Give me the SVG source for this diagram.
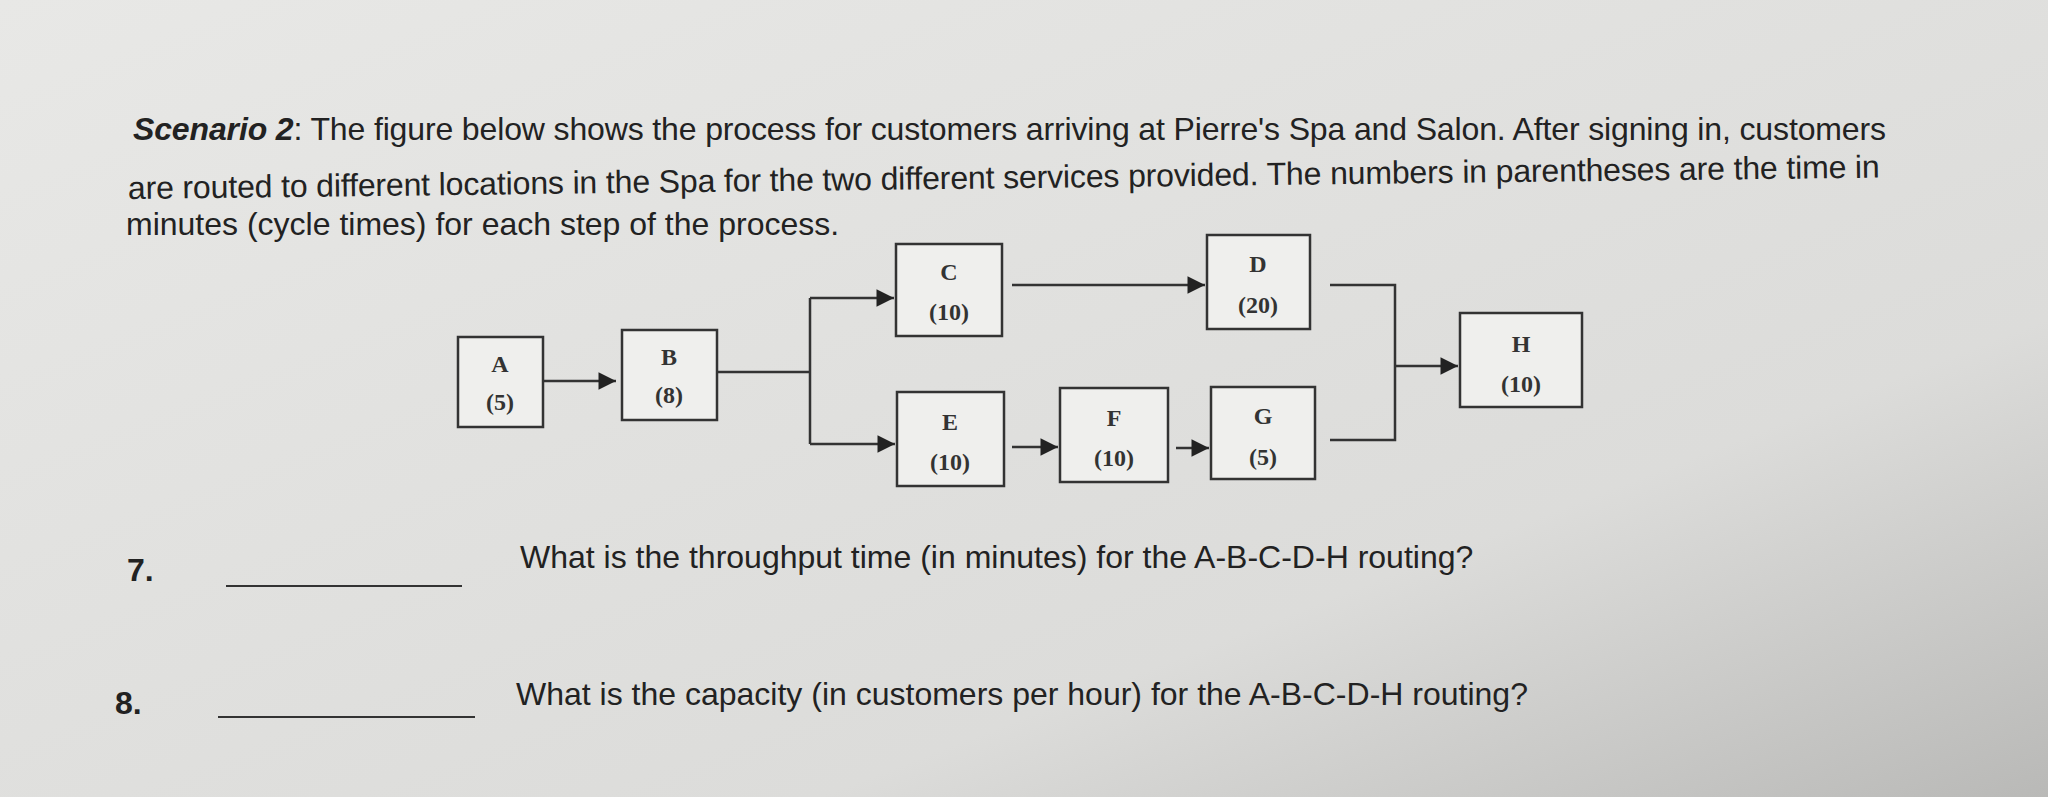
<svg xmlns="http://www.w3.org/2000/svg" width="2048" height="797" viewBox="0 0 2048 797">
<defs>
<linearGradient id="bg" x1="0" y1="0" x2="1" y2="1"><stop offset="0" stop-color="#e8e8e6"/><stop offset="0.7" stop-color="#dcdcda"/><stop offset="1" stop-color="#b9b9b7"/></linearGradient>
<marker id="ar" viewBox="0 0 10 10" refX="10" refY="5" markerWidth="9" markerHeight="7" orient="auto"><path d="M0,0 L10,5 L0,10 z" fill="#222"/></marker>
<style>
.q{font-family:"Liberation Sans",Arial,sans-serif;font-size:32px;fill:#222}
.b rect{fill:#efefed;stroke:#333;stroke-width:2.5}
.b text{font-family:"Liberation Serif","Times New Roman",serif;font-weight:bold;font-size:24px;fill:#333;text-anchor:middle}
.c{fill:none;stroke:#333;stroke-width:2.5}
</style>
</defs>
<rect width="2048" height="797" fill="url(#bg)"/>
<text class="q" x="133" y="140" textLength="1753"><tspan font-weight="bold" font-style="italic">Scenario 2</tspan>:  The figure below shows the process for customers arriving at Pierre's Spa and Salon. After signing in, customers</text>
<text class="q" x="128" y="199" textLength="1752" transform="rotate(-0.7 128 199)">are routed to different locations in the Spa for the two different services provided. The numbers in parentheses are the time in</text>
<text class="q" x="126" y="235">minutes (cycle times) for each step of the process.</text>
<g class="c">
<path d="M543 381 H616" marker-end="url(#ar)"/>
<path d="M717 372 H810 M810 298 V444"/>
<path d="M810 298 H894" marker-end="url(#ar)"/>
<path d="M810 444 H895" marker-end="url(#ar)"/>
<path d="M1012 285 H1205" marker-end="url(#ar)"/>
<path d="M1012 447 H1058" marker-end="url(#ar)"/>
<path d="M1176 448 H1209" marker-end="url(#ar)"/>
<path d="M1330 285 H1395 V440 H1330"/>
<path d="M1395 366 H1458" marker-end="url(#ar)"/>
</g>
<g id="A" class="b"><rect x="458" y="337" width="85" height="90"/><text x="500" y="372">A</text><text x="500" y="410">(5)</text></g>
<g id="B" class="b"><rect x="622" y="330" width="95" height="90"/><text x="669" y="365">B</text><text x="669" y="403">(8)</text></g>
<g id="C" class="b"><rect x="896" y="244" width="106" height="92"/><text x="949" y="280">C</text><text x="949" y="320">(10)</text></g>
<g id="D" class="b"><rect x="1207" y="235" width="103" height="94"/><text x="1258" y="272">D</text><text x="1258" y="313">(20)</text></g>
<g id="E" class="b"><rect x="897" y="392" width="107" height="94"/><text x="950" y="430">E</text><text x="950" y="470">(10)</text></g>
<g id="F" class="b"><rect x="1060" y="388" width="108" height="94"/><text x="1114" y="426">F</text><text x="1114" y="466">(10)</text></g>
<g id="G" class="b"><rect x="1211" y="387" width="104" height="92"/><text x="1263" y="424">G</text><text x="1263" y="465">(5)</text></g>
<g id="H" class="b"><rect x="1460" y="313" width="122" height="94"/><text x="1521" y="352">H</text><text x="1521" y="392">(10)</text></g>
<text class="q" x="127" y="581" font-weight="bold">7.</text>
<line x1="226" y1="586" x2="462" y2="586" stroke="#333" stroke-width="2"/>
<text class="q" x="520" y="568">What is the throughput time (in minutes) for the A-B-C-D-H routing?</text>
<text class="q" x="115" y="714" font-weight="bold">8.</text>
<line x1="218" y1="717" x2="475" y2="717" stroke="#333" stroke-width="2"/>
<text class="q" x="516" y="705">What is the capacity (in customers per hour) for the A-B-C-D-H routing?</text>
</svg>
